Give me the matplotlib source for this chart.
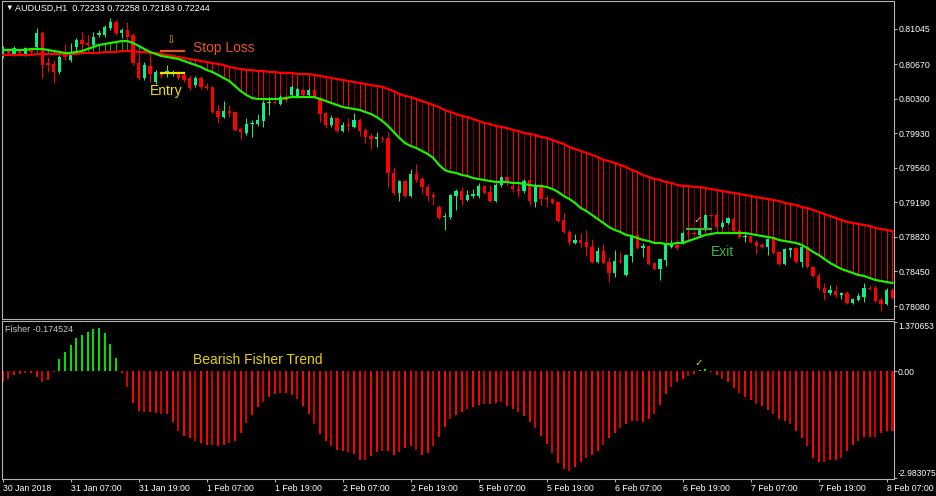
import numpy as np
import matplotlib
matplotlib.use('Agg')
import matplotlib.pyplot as plt

plt.rcParams['font.family'] = ['Liberation Sans', 'DejaVu Sans']

# AUDUSD H1 candles, prices in points (1e-5), bar 0 = 30 Jan 19:00
opens = [80788, 80820, 80777, 80820, 80777, 80820, 80852, 81002, 80681, 80670,
         80585, 80788, 80713, 80852, 80927, 80895, 80874, 80980, 80980, 81055,
         81120, 81002, 81034, 80980, 80681, 80520, 80649, 80478, 80574, 80574,
         80563, 80574, 80553, 80520, 80446, 80520, 80435, 80424, 80167, 80103,
         80167, 80157, 79975, 79932, 80028, 80028, 80060, 80253, 80264, 80242,
         80317, 80339, 80328, 80392, 80339, 80392, 80306, 80146, 80018, 80092,
         79953, 80018, 79996, 80071, 79964, 79900, 79868, 79879, 79879, 79504,
         79290, 79418, 79258, 79493, 79440, 79354, 79269, 79140, 79033, 79033,
         79258, 79311, 79215, 79258, 79258, 79365, 79301, 79204, 79376, 79461,
         79365, 79333, 79311, 79429, 79194, 79376, 79236, 79226, 79194, 79001,
         78873, 78755, 78787, 78766, 78712, 78552, 78669, 78552, 78434, 78562,
         78413, 78616, 78841, 78701, 78723, 78541, 78477, 78573, 78712, 78734,
         78755, 78862, 78862, 78841, 78894, 79055, 79055, 78926, 78969, 79012,
         78894, 78819, 78830, 78766, 78734, 78712, 78798, 78659, 78530, 78680,
         78701, 78552, 78712, 78498, 78402, 78274, 78220, 78241, 78199, 78220,
         78113, 78145, 78177, 78274, 78274, 78145, 78102, 78252]
highs = [80863, 80841, 80863, 80831, 80852, 80841, 81055, 81023, 80745, 80713,
         80767, 80884, 80895, 80948, 81013, 80980, 81013, 81034, 81087, 81162,
         81141, 81055, 81120, 81002, 80820, 80692, 80788, 80606, 80595, 80660,
         80606, 80595, 80574, 80553, 80542, 80542, 80467, 80435, 80232, 80274,
         80232, 80167, 79996, 80092, 80071, 80135, 80285, 80317, 80285, 80339,
         80349, 80446, 80424, 80413, 80413, 80413, 80328, 80167, 80125, 80103,
         80050, 80092, 80146, 80092, 79985, 79932, 79943, 79900, 79943, 79568,
         79429, 79429, 79547, 79600, 79461, 79386, 79301, 79162, 79076, 79279,
         79333, 79354, 79322, 79333, 79397, 79376, 79376, 79397, 79472, 79472,
         79397, 79408, 79440, 79440, 79397, 79397, 79269, 79236, 79204, 79076,
         78894, 78851, 78862, 78894, 78798, 78712, 78744, 78605, 78680, 78659,
         78637, 78841, 78862, 78755, 78734, 78552, 78594, 78755, 78787, 78787,
         78883, 78873, 78873, 78915, 79065, 79065, 79065, 79001, 79033, 79022,
         78905, 78862, 78841, 78787, 78755, 78809, 78809, 78669, 78701, 78712,
         78712, 78723, 78723, 78509, 78434, 78327, 78306, 78306, 78231, 78241,
         78166, 78220, 78327, 78306, 78306, 78177, 78274, 78274]
lows = [80734, 80767, 80756, 80767, 80756, 80777, 80831, 80520, 80585, 80467,
        80563, 80713, 80692, 80788, 80820, 80841, 80852, 80959, 80959, 81034,
        80980, 80948, 80906, 80660, 80499, 80499, 80478, 80456, 80520, 80531,
        80542, 80499, 80478, 80392, 80424, 80403, 80392, 80146, 80039, 80092,
        80103, 79953, 79868, 79911, 79889, 80007, 79996, 80125, 80242, 80232,
        80264, 80317, 80306, 80317, 80328, 80306, 80050, 79985, 79996, 79943,
        79943, 79943, 79985, 79900, 79825, 79761, 79782, 79836, 79354, 79269,
        79204, 79247, 79247, 79408, 79290, 79204, 79162, 79012, 78894, 79012,
        79108, 79162, 79204, 79236, 79236, 79279, 79194, 79194, 79354, 79365,
        79301, 79247, 79290, 79162, 79140, 79162, 79140, 79172, 78980, 78862,
        78734, 78744, 78701, 78616, 78541, 78541, 78530, 78338, 78391, 78541,
        78402, 78552, 78691, 78605, 78520, 78466, 78359, 78509, 78701, 78680,
        78744, 78841, 78841, 78830, 78883, 79033, 78915, 78915, 78958, 78873,
        78809, 78766, 78755, 78637, 78701, 78627, 78637, 78520, 78520, 78605,
        78541, 78498, 78487, 78391, 78252, 78145, 78199, 78177, 78156, 78102,
        78102, 78134, 78124, 78252, 78124, 78027, 78092, 78156]
closes = [80841, 80788, 80841, 80788, 80841, 80799, 81002, 80660, 80660, 80585,
          80745, 80745, 80767, 80927, 80884, 80874, 80959, 81002, 81066, 81120,
          81002, 81034, 80959, 80681, 80520, 80660, 80563, 80585, 80553, 80595,
          80585, 80520, 80499, 80413, 80520, 80424, 80413, 80157, 80103, 80167,
          80146, 79964, 79943, 80028, 80039, 80071, 80253, 80264, 80253, 80317,
          80285, 80424, 80403, 80339, 80392, 80328, 80135, 80018, 80092, 79953,
          80018, 80007, 80071, 79953, 79889, 79868, 79889, 79868, 79504, 79290,
          79418, 79258, 79493, 79429, 79354, 79258, 79247, 79022, 79044, 79269,
          79311, 79215, 79269, 79279, 79365, 79290, 79204, 79376, 79461, 79408,
          79333, 79311, 79418, 79204, 79376, 79226, 79226, 79183, 78990, 78873,
          78766, 78787, 78755, 78712, 78552, 78669, 78541, 78434, 78562, 78552,
          78627, 78819, 78701, 78723, 78530, 78477, 78584, 78734, 78744, 78701,
          78862, 78851, 78851, 78894, 79055, 79044, 78926, 78969, 79022, 78883,
          78819, 78830, 78766, 78723, 78712, 78798, 78648, 78530, 78691, 78701,
          78552, 78712, 78498, 78402, 78274, 78220, 78252, 78199, 78220, 78113,
          78156, 78188, 78274, 78263, 78134, 78102, 78252, 78166]

# green (fast) and red (slow) moving averages, points
ma_fast = [80820, 80820, 80820, 80820, 80820, 80831, 80831, 80831, 80820, 80809,
           80799, 80788, 80788, 80799, 80809, 80831, 80852, 80874, 80884, 80895,
           80906, 80916, 80916, 80895, 80863, 80831, 80799, 80777, 80756, 80745,
           80734, 80724, 80702, 80681, 80660, 80638, 80606, 80585, 80553, 80520,
           80488, 80435, 80381, 80339, 80306, 80296, 80296, 80296, 80296, 80296,
           80306, 80317, 80317, 80317, 80317, 80317, 80296, 80274, 80253, 80232,
           80210, 80199, 80189, 80178, 80157, 80135, 80103, 80060, 80007, 79943,
           79879, 79825, 79793, 79771, 79739, 79707, 79664, 79590, 79536, 79515,
           79504, 79483, 79472, 79450, 79440, 79429, 79418, 79408, 79408, 79408,
           79397, 79397, 79386, 79376, 79365, 79365, 79354, 79333, 79301, 79258,
           79226, 79183, 79129, 79097, 79055, 79012, 78969, 78926, 78894, 78873,
           78841, 78830, 78809, 78787, 78776, 78755, 78755, 78744, 78744, 78755,
           78755, 78776, 78798, 78819, 78841, 78851, 78862, 78862, 78862, 78862,
           78862, 78862, 78851, 78841, 78830, 78819, 78809, 78787, 78776, 78766,
           78755, 78734, 78701, 78659, 78627, 78584, 78541, 78509, 78477, 78455,
           78434, 78413, 78402, 78380, 78359, 78348, 78338, 78327]
ma_slow = [80767, 80767, 80767, 80767, 80767, 80767, 80777, 80777, 80777, 80777,
           80777, 80777, 80777, 80777, 80788, 80788, 80788, 80788, 80799, 80799,
           80799, 80809, 80809, 80809, 80799, 80799, 80788, 80788, 80777, 80767,
           80756, 80745, 80734, 80724, 80713, 80702, 80692, 80681, 80670, 80660,
           80638, 80627, 80617, 80606, 80606, 80595, 80595, 80585, 80585, 80574,
           80574, 80574, 80563, 80563, 80563, 80553, 80542, 80531, 80520, 80510,
           80499, 80488, 80478, 80467, 80456, 80446, 80435, 80424, 80403, 80381,
           80349, 80328, 80317, 80296, 80274, 80253, 80232, 80210, 80178, 80157,
           80135, 80114, 80103, 80082, 80060, 80039, 80028, 80007, 79996, 79985,
           79964, 79953, 79932, 79921, 79911, 79889, 79879, 79857, 79836, 79814,
           79782, 79761, 79739, 79718, 79697, 79675, 79643, 79632, 79611, 79590,
           79568, 79536, 79515, 79483, 79461, 79440, 79429, 79408, 79397, 79376,
           79365, 79365, 79354, 79354, 79343, 79333, 79322, 79311, 79301, 79290,
           79279, 79269, 79258, 79247, 79236, 79226, 79215, 79204, 79183, 79172,
           79162, 79140, 79129, 79108, 79087, 79065, 79044, 79022, 79001, 78980,
           78969, 78958, 78948, 78937, 78915, 78905, 78894, 78883]

fisher = [-0.30, -0.23, -0.12, -0.07, -0.04, -0.04, -0.17, -0.31, -0.24, -0.03,
          0.33, 0.54, 0.74, 0.91, 1.00, 1.08, 1.17, 1.19, 1.05, 0.76,
          0.37, -0.04, -0.45, -0.90, -1.12, -1.15, -1.15, -1.17, -1.19, -1.21,
          -1.42, -1.66, -1.82, -1.88, -1.96, -2.02, -2.05, -2.07, -2.09, -2.05,
          -2.02, -1.94, -1.73, -1.45, -1.23, -1.01, -0.86, -0.73, -0.65, -0.62,
          -0.62, -0.68, -0.78, -0.98, -1.19, -1.48, -1.75, -1.96, -2.08, -2.19,
          -2.22, -2.26, -2.31, -2.49, -2.49, -2.37, -2.26, -2.22, -2.22, -2.33,
          -2.26, -2.14, -2.09, -2.19, -2.33, -2.28, -2.09, -1.84, -1.56, -1.33,
          -1.23, -1.14, -1.07, -1.01, -0.95, -0.93, -0.91, -0.88, -0.87, -0.98,
          -1.07, -1.15, -1.26, -1.42, -1.58, -1.80, -2.03, -2.28, -2.57, -2.74,
          -2.79, -2.67, -2.53, -2.42, -2.35, -2.22, -2.05, -1.88, -1.74, -1.60,
          -1.49, -1.40, -1.40, -1.41, -1.35, -1.21, -0.95, -0.65, -0.45, -0.31,
          -0.23, -0.15, -0.07, 0.04, 0.07, -0.03, -0.12, -0.23, -0.31, -0.47,
          -0.62, -0.73, -0.82, -0.91, -0.98, -1.09, -1.21, -1.33, -1.40, -1.47,
          -1.68, -1.86, -2.09, -2.42, -2.53, -2.54, -2.49, -2.47, -2.42, -2.22,
          -2.07, -1.94, -1.84, -1.84, -1.84, -1.72, -1.68, -1.68]

price_ticks = [0.81045, 0.80670, 0.80300, 0.79930, 0.79560, 0.79190, 0.78820, 0.78450, 0.78080]
date_pos = [0, 12, 24, 36, 48, 60, 72, 84, 96, 108, 120, 132, 144, 156]
date_labels = ['30 Jan 2018', '31 Jan 07:00', '31 Jan 19:00', '1 Feb 07:00', '1 Feb 19:00',
               '2 Feb 07:00', '2 Feb 19:00', '5 Feb 07:00', '5 Feb 19:00', '6 Feb 07:00',
               '6 Feb 19:00', '7 Feb 07:00', '7 Feb 19:00', '8 Feb 07:00']
fisher_ticks = [1.370653, 0.0, -2.983075]
fisher_tick_labels = ['1.370653', '0.00', '-2.983075']

BULL = '#14EA86'
BEAR = '#FF0000'
GRID = '#B4B4B4'
W, H = 936, 496


def frac(x0, y0, x1, y1):
    return [x0 / W, 1 - y1 / H, (x1 - x0) / W, (y1 - y0) / H]


o = np.array(opens) / 1e5
h = np.array(highs) / 1e5
l = np.array(lows) / 1e5
c = np.array(closes) / 1e5
fast = np.array(ma_fast) / 1e5
slow = np.array(ma_slow) / 1e5
fis = np.array(fisher)
idx = np.arange(len(o))

fig = plt.figure(figsize=(9.36, 4.96), dpi=100, facecolor='black')
ax = fig.add_axes(frac(1.5, 1, 893.5, 319))
axf = fig.add_axes(frac(1.5, 321, 893.5, 479))

for a in (ax, axf):
    a.set_facecolor('black')
    a.set_xlim(-0.21, 157.2)
    for s in a.spines.values():
        s.set_color(GRID)
        s.set_linewidth(0.8)

# hatch between the two averages
hcol = []
for i in idx:
    if fast[i] > slow[i]:
        hcol.append('#00A800')
    else:
        hcol.append('#7A0000' if i % 3 == 2 else '#FF0000')
ax.vlines(idx, fast, slow, colors=hcol, lw=0.75, zorder=1)

# candles
up = c >= o
col = np.where(up, BULL, BEAR)
ax.vlines(idx, l, h, colors=col, lw=0.75, zorder=3)
body = np.maximum(np.abs(c - o), 0.00009)
bot = np.minimum(o, c) - (body - np.abs(c - o)) / 2
ax.bar(idx, body, 0.6, bottom=bot, color=col, edgecolor='none', zorder=3)

ax.plot(idx, slow, color='#FF0000', lw=1.6, zorder=4)
ax.plot(idx, fast, color='#22EE00', lw=1.6, zorder=4)

ax.set_ylim(0.779417, 0.813443)
ax.set_xticks([])
ax.yaxis.tick_right()
ax.set_yticks(price_ticks)
ax.set_yticklabels(['%.5f' % p for p in price_ticks])
ax.tick_params(axis='y', colors=GRID, labelcolor='white', labelsize=6.3,
               length=2.5, width=0.8, pad=1.2)

# trade annotations
ax.plot([27.9, 32.0], [0.80804, 0.80804], color='#E8561F', lw=1.6, zorder=5)
ax.text(29.7, 0.80922, '\u21e9', color='#E0A800', fontsize=7.5, ha='center', va='center', zorder=5)
ax.text(33.6, 0.80845, 'Stop Loss', color='#E8561F', fontsize=10, va='center', zorder=5)
ax.plot([27.9, 32.0], [0.80579, 0.80579], color='#F0E000', lw=1.6, zorder=5)
ax.text(26.0, 0.80385, 'Entry', color='#F0E000', fontsize=10, va='center', zorder=5)
ax.plot([120.8, 125.0], [0.78910, 0.78910], color='#3CB43C', lw=1.6, zorder=5)
ax.text(122.7, 0.79006, '\u2713', color='#F0D000', fontsize=7.5, ha='center', va='center', zorder=5)
ax.text(124.9, 0.78662, 'Exit', color='#3CB43C', fontsize=10, va='center', zorder=5)

# fisher histogram
fcol = []
for i in idx:
    if fis[i] > 0:
        fcol.append('#00E000')
    else:
        fcol.append('#D00000' if i % 3 == 1 else '#FF0000')
axf.bar(idx, fis, 0.4, color=fcol, edgecolor='none')
axf.set_ylim(-3.011, 1.398)
axf.yaxis.tick_right()
axf.set_yticks(fisher_ticks)
axf.set_yticklabels(fisher_tick_labels)
axf.tick_params(axis='y', colors=GRID, labelcolor='white', labelsize=6.2,
                length=2.5, width=0.8, pad=0.8)
ylabs = axf.get_yticklabels()
ylabs[0].set_va('top')
ylabs[2].set_va('bottom')
axf.set_xticks(date_pos)
axf.set_xticklabels(date_labels, ha='left')
axf.tick_params(axis='x', colors=GRID, labelcolor='white', labelsize=6.3,
                length=2.5, width=0.8, pad=1.2)
axf.text(33.5, 0.30, 'Bearish Fisher Trend', color='#E6D200', fontsize=10, va='center')
axf.text(122.9, 0.23, '\u2713', color='#F0D000', fontsize=7.5, ha='center', va='center')

fig.text(5 / W, 1 - 8.5 / H, '\u25bc', color='white', fontsize=5.5, va='center')
fig.text(15 / W, 1 - 8.5 / H, 'AUDUSD,H1  0.72233 0.72258 0.72183 0.72244',
         color='white', fontsize=6.5, va='center')
fig.text(5 / W, 1 - 329 / H, 'Fisher -0.174524', color='#C8C8C8', fontsize=6.5, va='center')

fig.savefig('out.png', dpi=100, facecolor='black')
